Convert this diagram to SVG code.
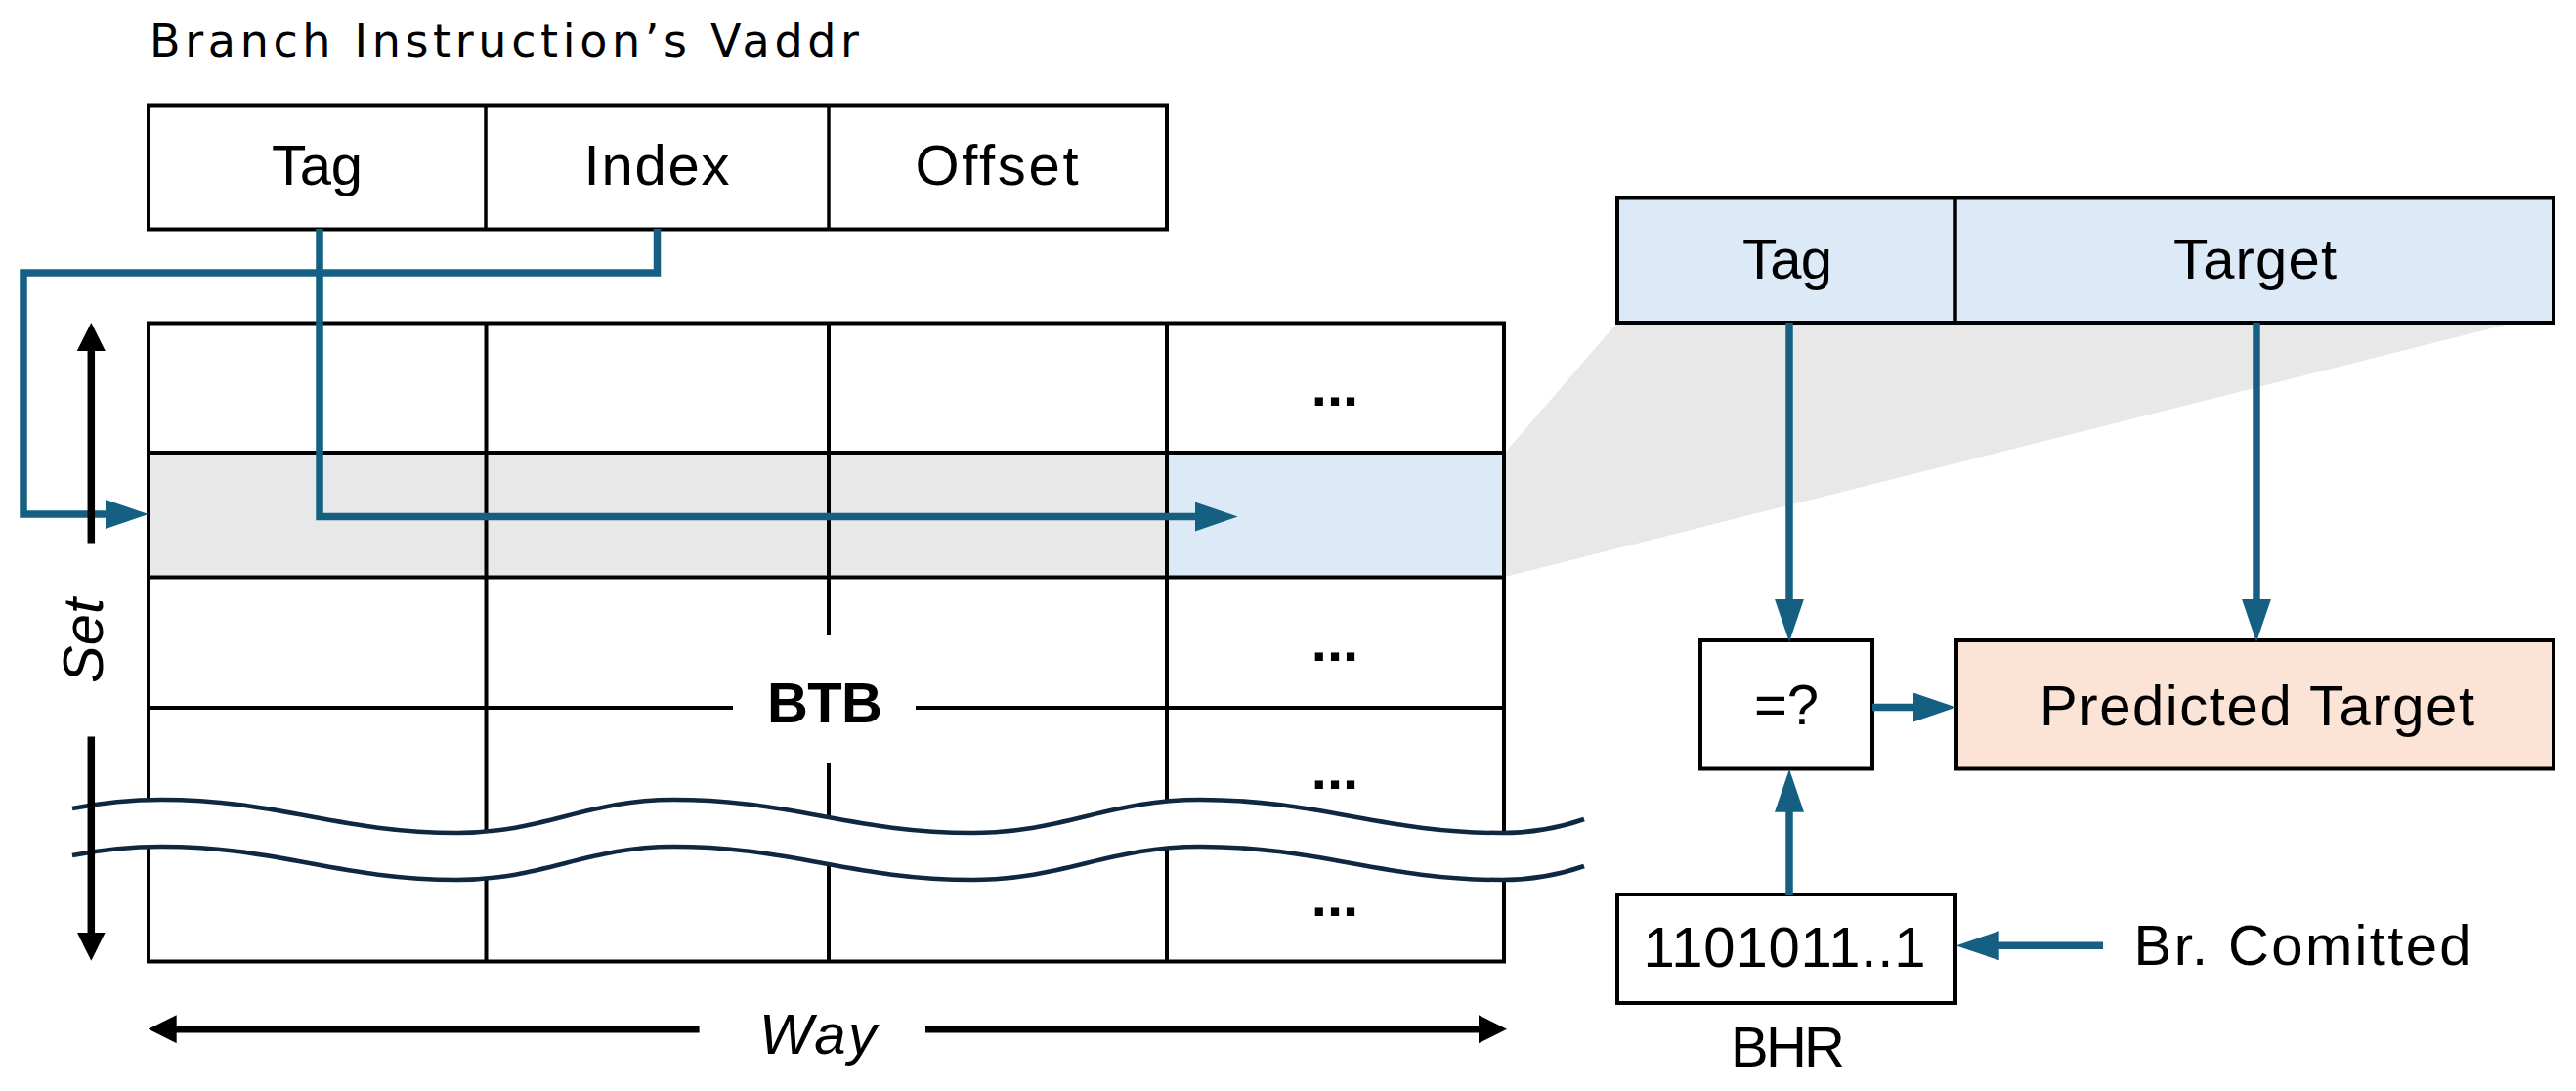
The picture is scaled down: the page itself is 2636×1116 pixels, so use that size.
<svg xmlns="http://www.w3.org/2000/svg" width="2636" height="1116" viewBox="0 0 2636 1116">
<style>
.t{font-family:"Liberation Sans",Arial,sans-serif;font-size:58px;fill:#000}
.m{text-anchor:middle}
.box{fill:#fff;stroke:#000;stroke-width:4}
.ln{stroke:#000;stroke-width:4;fill:none}
.dv{stroke:#000;stroke-width:3.5;fill:none}
.blue{stroke:#156082;stroke-width:7.5;fill:none;stroke-linejoin:miter}
.blk{stroke:#000;stroke-width:7.5;fill:none}
.wave{stroke:#0E2841;stroke-width:4.5;fill:none}
.dots{font-weight:bold}
</style>
<defs>
<marker id="ab" markerUnits="userSpaceOnUse" markerWidth="44" markerHeight="30" viewBox="0 0 44 30" refX="4" refY="15" orient="auto-start-reverse"><path d="M0,0 L44,15 L0,30 Z" fill="#156082"/></marker>
<marker id="ak" markerUnits="userSpaceOnUse" markerWidth="29" markerHeight="29" viewBox="0 0 29 29" refX="4" refY="14.5" orient="auto-start-reverse"><path d="M0,0 L29,14.5 L0,29 Z" fill="#000"/></marker>
</defs>
<rect width="2636" height="1116" fill="#fff"/>

<g id="title"><text x="153" y="57.5" style="font-family:'DejaVu Sans','Liberation Sans',sans-serif;font-size:46px" textLength="726" lengthAdjust="spacing">Branch Instruction’s Vaddr</text></g>

<g id="vaddr">
<rect class="box" x="152" y="107.5" width="1042" height="127"/>
<line class="dv" x1="497" y1="107.5" x2="497" y2="234.5"/>
<line class="dv" x1="848" y1="107.5" x2="848" y2="234.5"/>
<text class="t m" x="324.5" y="189.3" textLength="93">Tag</text>
<text class="t m" x="672" y="189.3" textLength="149">Index</text>
<text class="t m" x="1020" y="189.3" textLength="167">Offset</text>
</g>

<g id="zoom-wedge"><polygon points="1540,463 1655,330 2573,330 1540,590" fill="#E8E8E8"/></g>

<g id="btb">
<rect x="152" y="463" width="1042" height="127" fill="#E8E8E8"/>
<rect x="1194" y="463" width="345" height="127" fill="#DCEAF7"/>
<rect class="ln" x="152" y="330.5" width="1387" height="653"/>
<line class="ln" x1="152" y1="463" x2="1539" y2="463"/>
<line class="ln" x1="152" y1="590.5" x2="1539" y2="590.5"/>
<line class="ln" x1="152" y1="724" x2="1539" y2="724"/>
<line class="ln" x1="497.5" y1="330.5" x2="497.5" y2="983.5"/>
<line class="ln" x1="848" y1="330.5" x2="848" y2="983.5"/>
<line class="ln" x1="1194" y1="330.5" x2="1194" y2="983.5"/>
<g class="t m dots">
<text x="1366" y="415">...</text>
<text x="1366" y="676">...</text>
<text x="1366" y="807">...</text>
<text x="1366" y="937">...</text>
</g>
<path fill="#fff" d="M74 827 C110 820,135 818,165 818 C285 818,348 852,468 852 C556 852,601 818,689 818 C811 818,873 852,995 852 C1088 852,1135 818,1228 818 C1351 818,1414 852,1537 852 C1570 852,1598 846,1621 838 L1621 886 C1598 894,1570 900,1537 900 C1414 900,1351 866,1228 866 C1135 866,1088 900,995 900 C873 900,811 866,689 866 C601 866,556 900,468 900 C348 900,285 866,165 866 C135 866,110 868,74 875 Z"/>
<path id="wv" class="wave" d="M74 827 C110 820,135 818,165 818 C285 818,348 852,468 852 C556 852,601 818,689 818 C811 818,873 852,995 852 C1088 852,1135 818,1228 818 C1351 818,1414 852,1537 852 C1570 852,1598 846,1621 838"/>
<use href="#wv" transform="translate(0,48)"/>
<rect x="750" y="650" width="187" height="130" fill="#fff"/>
<text class="t m" x="844" y="739" style="font-weight:bold" textLength="118">BTB</text>
</g>

<g id="entry">
<rect x="1655" y="202.5" width="958" height="127.5" fill="#DCEAF7" stroke="#000" stroke-width="4"/>
<line class="dv" x1="2001" y1="202.5" x2="2001" y2="330"/>
<text class="t m" x="1829" y="285.4" textLength="92">Tag</text>
<text class="t m" x="2307.5" y="285.4" textLength="167">Target</text>
</g>

<g id="compare">
<rect class="box" x="1740" y="655" width="176" height="131.5"/>
<text class="t m" x="1828" y="740.7">=?</text>
</g>

<g id="predicted-target">
<rect x="2002" y="655" width="611" height="131.5" fill="#FBE3D6" stroke="#000" stroke-width="4"/>
<text class="t m" x="2309.5" y="741.7" textLength="445">Predicted Target</text>
</g>

<g id="bhr">
<rect class="box" x="1655" y="915" width="346" height="111"/>
<text class="t m" x="1826" y="989.3" textLength="289">1101011..1</text>
<text class="t m" x="1829.5" y="1091" textLength="117">BHR</text>
</g>

<g id="br-committed"><text class="t" x="2183.6" y="986.7" textLength="345">Br. Comitted</text></g>

<g id="connectors">
<path class="blue" d="M672.5 234 V279 H24 V526 H112" marker-end="url(#ab)"/>
<path class="blue" d="M327 234 V528.5 H1226.7" marker-end="url(#ab)"/>
<path class="blue" d="M1831 330 V616.8" marker-end="url(#ab)"/>
<path class="blue" d="M2309 330 V616.8" marker-end="url(#ab)"/>
<path class="blue" d="M1916 723.5 H1961.7" marker-end="url(#ab)"/>
<path class="blue" d="M1831 915 V826.7" marker-end="url(#ab)"/>
<path class="blue" d="M2152 967.3 H2041.7" marker-end="url(#ab)"/>
</g>

<g id="set-axis">
<path class="blk" d="M93.3 555.4 V355" marker-end="url(#ak)"/>
<path class="blk" d="M93.3 753.5 V957.7" marker-end="url(#ak)"/>
<text class="t m" transform="translate(105,655.5) rotate(-90)" style="font-style:italic">Set</text>
</g>

<g id="way-axis">
<path class="blk" d="M715.6 1052.7 H176.7" marker-end="url(#ak)"/>
<path class="blk" d="M947 1052.7 H1517" marker-end="url(#ak)"/>
<text class="t m" x="837" y="1078" style="font-style:italic" textLength="120">Way</text>
</g>
</svg>
